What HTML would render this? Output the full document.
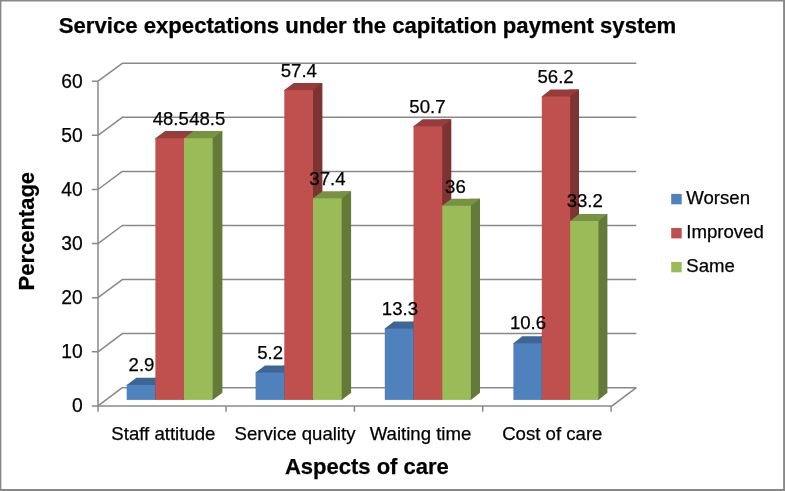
<!DOCTYPE html>
<html><head><meta charset="utf-8"><title>Service expectations</title>
<style>
html,body{margin:0;padding:0;background:#fff;}
body{width:785px;height:491px;overflow:hidden;position:relative;}
svg{position:absolute;left:0;top:0;display:block;}
text{font-family:"Liberation Sans",Arial,Helvetica,sans-serif;fill:#000;stroke:#000;stroke-width:0.25px;}
.b{font-weight:bold;}
</style></head><body>
<svg width="785" height="491" viewBox="0 0 785 491">
<rect x="0" y="0" width="785" height="491" fill="#fff"/>
<path d="M0 0H785V491H0Z M1.4 1.4V489.1H783.1V1.4Z" fill="#888" fill-rule="evenodd"/>
<polyline points="91.8,405.9 98.0,405.9 122.3,387.7 636.3,387.7" fill="none" stroke="#898989" stroke-width="1.5" stroke-linejoin="round"/>
<polyline points="91.8,351.8 98.0,351.8 122.3,333.6 636.3,333.6" fill="none" stroke="#898989" stroke-width="1.5" stroke-linejoin="round"/>
<polyline points="91.8,297.7 98.0,297.7 122.3,279.6 636.3,279.6" fill="none" stroke="#898989" stroke-width="1.5" stroke-linejoin="round"/>
<polyline points="91.8,243.6 98.0,243.6 122.3,225.5 636.3,225.5" fill="none" stroke="#898989" stroke-width="1.5" stroke-linejoin="round"/>
<polyline points="91.8,189.5 98.0,189.5 122.3,171.4 636.3,171.4" fill="none" stroke="#898989" stroke-width="1.5" stroke-linejoin="round"/>
<polyline points="91.8,135.3 98.0,135.3 122.3,117.3 636.3,117.3" fill="none" stroke="#898989" stroke-width="1.5" stroke-linejoin="round"/>
<polyline points="91.8,81.2 98.0,81.2 122.3,63.3 636.3,63.3" fill="none" stroke="#898989" stroke-width="1.5" stroke-linejoin="round"/>
<line x1="98.0" y1="81.2" x2="98.0" y2="405.9" stroke="#898989" stroke-width="1.5"/>
<polyline points="98.0,405.9 612.0,405.9 636.3,387.7" fill="none" stroke="#898989" stroke-width="1.5"/>
<line x1="98.0" y1="405.9" x2="98.0" y2="411.7" stroke="#898989" stroke-width="1.5"/>
<line x1="226.0" y1="405.9" x2="226.0" y2="411.7" stroke="#898989" stroke-width="1.5"/>
<line x1="354.4" y1="405.9" x2="354.4" y2="411.7" stroke="#898989" stroke-width="1.5"/>
<line x1="482.7" y1="405.9" x2="482.7" y2="411.7" stroke="#898989" stroke-width="1.5"/>
<line x1="611.1" y1="405.9" x2="611.1" y2="411.7" stroke="#898989" stroke-width="1.5"/>
<polygon points="154.4,399.9 155.4,399.9 165.1,392.8 165.1,377.8 154.4,377.8" fill="#335580"/>
<polygon points="126.7,384.9 126.7,385.9 155.4,385.9 155.4,384.9 165.1,377.8 136.4,377.8" fill="#3d6696"/>
<rect x="126.7" y="384.9" width="28.67" height="15.0" fill="#4f81bd"/>
<polygon points="183.0,399.9 184.0,399.9 193.7,392.8 193.7,131.1 183.0,131.1" fill="#7d3331"/>
<polygon points="155.4,138.2 155.4,139.2 184.0,139.2 184.0,138.2 193.7,131.1 165.1,131.1" fill="#963c3a"/>
<rect x="155.4" y="138.2" width="28.67" height="261.7" fill="#c0504d"/>
<polygon points="211.7,399.9 212.7,399.9 222.4,392.8 222.4,131.1 211.7,131.1" fill="#647a38"/>
<polygon points="184.0,138.2 184.0,139.2 212.7,139.2 212.7,138.2 222.4,131.1 193.7,131.1" fill="#789244"/>
<rect x="184.0" y="138.2" width="28.67" height="261.7" fill="#9bbb59"/>
<polygon points="283.3,399.9 284.3,399.9 293.7,392.8 293.7,365.4 283.3,365.4" fill="#335580"/>
<polygon points="255.6,372.5 255.6,373.5 284.3,373.5 284.3,372.5 293.7,365.4 265.0,365.4" fill="#3d6696"/>
<rect x="255.6" y="372.5" width="28.70" height="27.4" fill="#4f81bd"/>
<polygon points="312.0,399.9 313.0,399.9 322.4,392.8 322.4,83.0 312.0,83.0" fill="#7d3331"/>
<polygon points="284.3,90.1 284.3,91.1 313.0,91.1 313.0,90.1 322.4,83.0 293.7,83.0" fill="#963c3a"/>
<rect x="284.3" y="90.1" width="28.70" height="309.8" fill="#c0504d"/>
<polygon points="340.7,399.9 341.7,399.9 351.1,392.8 351.1,191.2 340.7,191.2" fill="#647a38"/>
<polygon points="313.0,198.3 313.0,199.3 341.7,199.3 341.7,198.3 351.1,191.2 322.4,191.2" fill="#789244"/>
<rect x="313.0" y="198.3" width="28.70" height="201.6" fill="#9bbb59"/>
<polygon points="412.5,399.9 413.5,399.9 422.6,392.8 422.6,321.5 412.5,321.5" fill="#335580"/>
<polygon points="384.8,328.6 384.8,329.6 413.5,329.6 413.5,328.6 422.6,321.5 393.9,321.5" fill="#3d6696"/>
<rect x="384.8" y="328.6" width="28.70" height="71.3" fill="#4f81bd"/>
<polygon points="441.2,399.9 442.2,399.9 451.3,392.8 451.3,119.2 441.2,119.2" fill="#7d3331"/>
<polygon points="413.5,126.3 413.5,127.3 442.2,127.3 442.2,126.3 451.3,119.2 422.6,119.2" fill="#963c3a"/>
<rect x="413.5" y="126.3" width="28.70" height="273.6" fill="#c0504d"/>
<polygon points="469.9,399.9 470.9,399.9 480.0,392.8 480.0,198.7 469.9,198.7" fill="#647a38"/>
<polygon points="442.2,205.8 442.2,206.8 470.9,206.8 470.9,205.8 480.0,198.7 451.3,198.7" fill="#789244"/>
<rect x="442.2" y="205.8" width="28.70" height="194.1" fill="#9bbb59"/>
<polygon points="540.8,399.9 541.8,399.9 550.6,392.8 550.6,336.2 540.8,336.2" fill="#335580"/>
<polygon points="513.4,343.3 513.4,344.3 541.8,344.3 541.8,343.3 550.6,336.2 522.3,336.2" fill="#3d6696"/>
<rect x="513.4" y="343.3" width="28.35" height="56.6" fill="#4f81bd"/>
<polygon points="569.1,399.9 570.1,399.9 579.0,392.8 579.0,89.5 569.1,89.5" fill="#7d3331"/>
<polygon points="541.8,96.6 541.8,97.6 570.1,97.6 570.1,96.6 579.0,89.5 550.6,89.5" fill="#963c3a"/>
<rect x="541.8" y="96.6" width="28.35" height="303.3" fill="#c0504d"/>
<polygon points="597.5,399.9 598.5,399.9 607.4,392.8 607.4,213.9 597.5,213.9" fill="#647a38"/>
<polygon points="570.1,221.0 570.1,222.0 598.5,222.0 598.5,221.0 607.4,213.9 579.0,213.9" fill="#789244"/>
<rect x="570.1" y="221.0" width="28.35" height="178.9" fill="#9bbb59"/>
<text class="b" x="58.8" y="32.5" font-size="22" textLength="617.5" lengthAdjust="spacingAndGlyphs">Service expectations under the capitation payment system</text>
<text x="82.8" y="412.3" font-size="19.3" text-anchor="end">0</text>
<text x="82.8" y="358.2" font-size="19.3" text-anchor="end">10</text>
<text x="82.8" y="304.1" font-size="19.3" text-anchor="end">20</text>
<text x="82.8" y="250.0" font-size="19.3" text-anchor="end">30</text>
<text x="82.8" y="195.9" font-size="19.3" text-anchor="end">40</text>
<text x="82.8" y="141.8" font-size="19.3" text-anchor="end">50</text>
<text x="82.8" y="87.6" font-size="19.3" text-anchor="end">60</text>
<text x="163.4" y="439.9" font-size="18.6" text-anchor="middle">Staff attitude</text>
<text x="295.0" y="439.9" font-size="18.6" text-anchor="middle">Service quality</text>
<text x="420.5" y="439.9" font-size="18.6" text-anchor="middle">Waiting time</text>
<text x="552.3" y="439.9" font-size="18.6" text-anchor="middle">Cost of care</text>
<text class="b" x="366.9" y="473.8" font-size="22" text-anchor="middle">Aspects of care</text>
<text class="b" transform="translate(34.1,231.2) rotate(-90)" font-size="22" text-anchor="middle">Percentage</text>
<rect x="671.2" y="193.9" width="10.5" height="10.4" fill="#4f81bd"/>
<text x="686.3" y="204.1" font-size="18.6">Worsen</text>
<rect x="671.2" y="228.0" width="10.5" height="10.4" fill="#c0504d"/>
<text x="686.3" y="238.2" font-size="18.6">Improved</text>
<rect x="671.2" y="261.9" width="10.5" height="10.4" fill="#9bbb59"/>
<text x="686.3" y="272.1" font-size="18.6">Same</text>
<text x="141.5" y="370.6" font-size="18.6" text-anchor="middle">2.9</text>
<text x="170.8" y="124.6" font-size="18.6" text-anchor="middle">48.5</text>
<text x="207.3" y="124.6" font-size="18.6" text-anchor="middle">48.5</text>
<text x="270.1" y="358.6" font-size="18.6" text-anchor="middle">5.2</text>
<text x="298.85" y="76.6" font-size="18.6" text-anchor="middle">57.4</text>
<text x="327.45" y="184.8" font-size="18.6" text-anchor="middle">37.4</text>
<text x="399.9" y="314.8" font-size="18.6" text-anchor="middle">13.3</text>
<text x="427.4" y="112.8" font-size="18.6" text-anchor="middle">50.7</text>
<text x="455.4" y="192.5" font-size="18.6" text-anchor="middle">36</text>
<text x="528" y="329.0" font-size="18.6" text-anchor="middle">10.6</text>
<text x="555.6" y="83.1" font-size="18.6" text-anchor="middle">56.2</text>
<text x="584.8" y="206.7" font-size="18.6" text-anchor="middle">33.2</text>
</svg>
</body></html>
